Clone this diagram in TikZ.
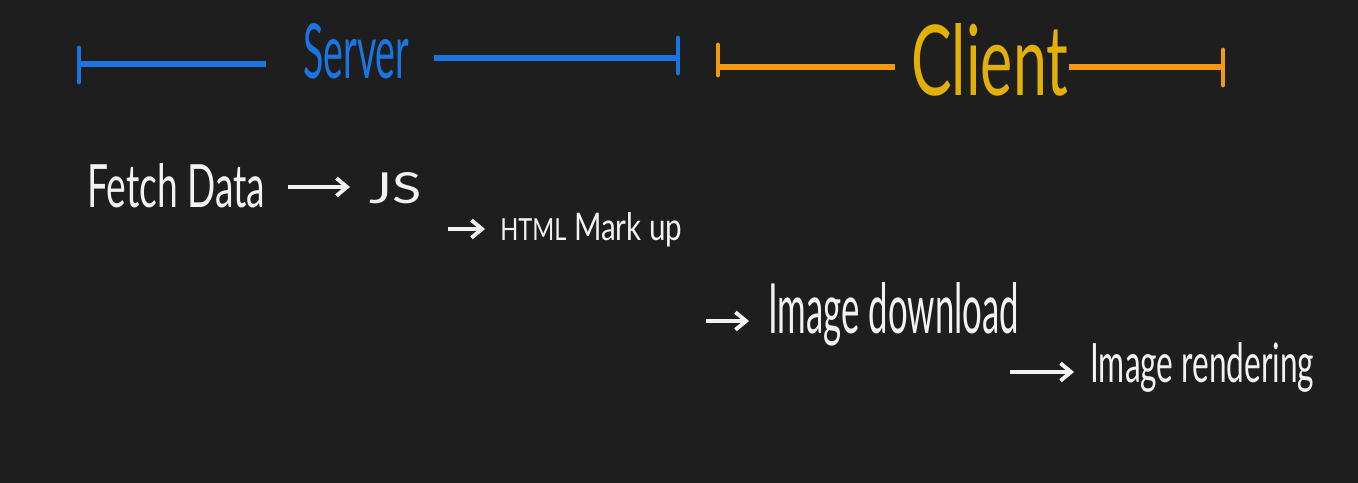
\documentclass[tikz,border=0pt]{standalone}
\usepackage{fontspec}
\setmainfont{Lato}
\usetikzlibrary{arrows.meta}
\definecolor{bg}{HTML}{1E1E1E}
\definecolor{srvblue}{HTML}{1A74E2}
\definecolor{cliorange}{HTML}{F29A14}
\definecolor{cliyellow}{HTML}{E2B007}
\definecolor{chalk}{HTML}{F2F2F2}
\newcommand{\handtext}[3]{\resizebox{#1}{#2}{#3}}
\begin{document}
\begin{tikzpicture}[x=0.02cm,y=-0.02cm,
  txt/.style={inner sep=0pt, anchor=base west, text=chalk},
  brk/.style={line width=3.6pt, line cap=butt},
  tick/.style={line width=2.8pt, line cap=round},
  arr/.style={draw=chalk, line width=2.2pt, -{Straight Barb[length=6pt,width=10pt]}}]
\fill[bg] (0,0) rectangle (1358,483);
\useasboundingbox (0,0) rectangle (1358,483);

% header labels
\node[txt,text=srvblue] (server) at (303,78) {\handtext{2.12cm}{1.1cm}{Server}};
\node[txt,text=cliyellow] (client) at (911,95) {\handtext{3.14cm}{1.44cm}{Client}};

% server bracket
\coordinate (sL) at (79,64);
\coordinate (sR) at (678,58);
\draw[brk,srvblue,shorten >=0.74cm] (sL) -- (server.west |- sL);
\draw[brk,srvblue,shorten <=0.48cm] (server.east |- sR) -- (sR);
\draw[tick,srvblue] (sL) ++(0,-16) -- ++(0,34);
\draw[tick,srvblue] (sR) ++(0,-20) -- ++(0,35);

% client bracket
\coordinate (cL) at (718,67);
\coordinate (cR) at (1223,67);
\draw[brk,cliorange,shorten >=0.32cm] (cL) -- (client.west |- cL);
\draw[brk,cliorange] (client.east |- cR) -- (cR);
\draw[tick,cliorange] (cL) ++(0,-22) -- ++(0,30);
\draw[tick,cliorange] (cR) ++(0,-17) -- ++(0,35);

% steps
\node[txt] (fetch) at (87,207) {\handtext{3.56cm}{0.88cm}{Fetch Data}};
\node[txt] (js) at (369,203) {\handtext{1.04cm}{0.62cm}{JS}};
\node[txt] (html) at (500,240) {\handtext{3.64cm}{0.56cm}{{\footnotesize HTML} Mark up}};
\node[txt] (dl) at (768,333) {\handtext{5.02cm}{1.02cm}{Image download}};
\node[txt] (rend) at (1090,382) {\handtext{4.48cm}{0.8cm}{Image rendering}};

% arrows
\coordinate (a1) at (288,187);
\coordinate (a2) at (448,229);
\coordinate (a3) at (706,321);
\coordinate (a4) at (1010,372);
\draw[arr,shorten >=0.38cm] (a1) -- (js.west |- a1);
\draw[arr,shorten >=0.30cm] (a2) -- (html.west |- a2);
\draw[arr,shorten >=0.38cm] (a3) -- (dl.west |- a3);
\draw[arr,shorten >=0.32cm] (a4) -- (rend.west |- a4);
\end{tikzpicture}
\end{document}
